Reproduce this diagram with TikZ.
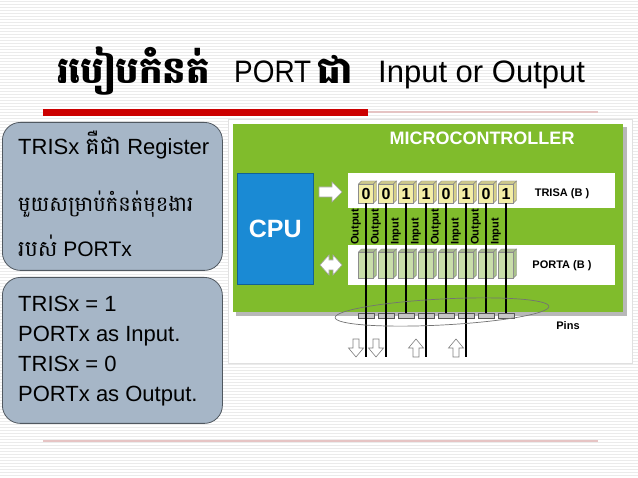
\documentclass[tikz,border=0pt]{standalone}
\usepackage{fontspec}
\usepackage{graphicx}
\setmainfont{Liberation Sans}
\newfontfamily\kh[Script=Khmer]{Battambang}
\definecolor{boxfill}{HTML}{A6B6C7}
\definecolor{boxline}{HTML}{505860}
\definecolor{mcgreen}{HTML}{80BC2C}
\definecolor{cpublue}{HTML}{1A8AD4}
\definecolor{yel}{HTML}{F3EEA6}
\definecolor{yelside}{HTML}{D6D08A}
\definecolor{grn}{HTML}{C9DDAA}
\definecolor{grnside}{HTML}{A9C28A}
\definecolor{titlered}{HTML}{CC0000}
\definecolor{thinred}{HTML}{E6C4C4}
\begin{document}
\begin{tikzpicture}[x=1pt,y=-1pt,
  stripe/.style={line width=1pt, color=black!8},
  lbox/.style={draw=boxline, fill=boxfill, rounded corners=18pt, line width=0.8pt, anchor=north west, inner sep=0},
  ltext/.style={anchor=base west, inner sep=0, font=\fontsize{21}{25}\selectfont},
  rtext/.style={anchor=base west, inner sep=0, font=\fontsize{22}{26}\selectfont},
  ttl/.style={anchor=base west, inner sep=0},
  ybox/.style={draw=black!45, fill=yel, minimum width=15pt, minimum height=19pt, inner sep=0, font=\bfseries\fontsize{16}{16}\selectfont},
  gbox/.style={draw=black!45, fill=grn, minimum width=15pt, minimum height=26pt, inner sep=0},
  pin/.style={draw=black!65, fill=black!22, minimum width=16pt, minimum height=5pt, inner sep=0},
  wire/.style={line width=1.1pt, black},
  vlab/.style={rotate=90, anchor=west, inner sep=0, font=\bfseries\fontsize{11}{11}\selectfont},
  blab/.style={inner sep=0, font=\bfseries\fontsize{11}{11}\selectfont},
  harrow/.style={fill=white, draw=black!35, line width=0.6pt},
  parrow/.style={fill=white, draw=black!50, line width=0.6pt}
]
\useasboundingbox (0,0) rectangle (638,478);
\fill[white] (0,0) rectangle (638,478);
\foreach \i in {0,...,159} \draw[stripe] (0,\i*3+1.5) -- (638,\i*3+1.5);

% title
\node[ttl, font=\kh\bfseries\fontsize{37}{40}\selectfont] (t1) at (57,84) {របៀបកំនត់};
\node[ttl, font=\fontsize{31}{36}\selectfont] (t2) at (234,83) {\scalebox{0.9}[1]{PORT}};
\node[ttl, font=\kh\bfseries\fontsize{37}{40}\selectfont] (t3) at (317,84) {ជា};
\node[ttl, font=\fontsize{31}{36}\selectfont] (t4) at (378,83) {Input or Output};
\fill[thinred] (367,111) rectangle (598,113);
\fill[titlered] (43,109) rectangle (368,116);
\fill[thinred] (43,440.5) rectangle (598,442);

% left boxes
\node[lbox, minimum width=220pt, minimum height=148pt] (b1) at (2,122) {};
\node[lbox, minimum width=220pt, minimum height=146pt] (b2) at (2,277) {};
\node[ltext, font=\fontsize{22}{25}\selectfont] (l1) at (18,155) {TRISx {\kh\fontsize{24}{25}\selectfont គឺជា} Register};
\node[ltext] (l2) at (18,212) {\kh មួយសម្រាប់កំនត់មុខងារ};
\node[ltext] (l3) at (18,257) {{\kh\fontsize{22}{25}\selectfont របស់} PORTx};
\node[rtext] (r1) at (18,312) {TRISx = 1};
\node[rtext] (r2) at (18,342) {PORTx as Input.};
\node[rtext] (r3) at (18,372) {TRISx = 0};
\node[rtext] (r4) at (18,402) {PORTx as Output.};

% picture
\fill[white] (228,119) rectangle (632,363);
\draw[black!12] (228,119) rectangle (632,363);
\fill[black!28] (236,127) rectangle (627,316);
\fill[mcgreen] (233,124) rectangle (623,312);
\node[font=\bfseries\fontsize{18}{18}\selectfont, text=white, inner sep=0] (mc) at (482,138) {MICROCONTROLLER};
\node[draw=cpublue!70!black, fill=cpublue, minimum width=76pt, minimum height=111pt, inner sep=0, anchor=north west, text=white, font=\bfseries\fontsize{25}{25}\selectfont] (cpu) at (237,173) {CPU};
\fill[white] (348,173) rectangle (615,208);
\fill[white] (348,245) rectangle (615,285);
\node[blab] (trisa) at (562,194) {TRISA (B )};
\node[blab] (porta) at (562,266) {PORTA (B )};
\node[blab] (pins) at (568,326) {Pins};

% arrows from CPU
\draw[harrow] (319,187) -- (332,187) -- (332,182) -- (342,192) -- (332,202) -- (332,197) -- (319,197) -- cycle;
\draw[harrow] (320,265) -- (329,255) -- (329,260) -- (333,260) -- (333,255) -- (342,265) -- (333,275) -- (333,270) -- (329,270) -- (329,275) -- cycle;

% bits
\foreach \d/\lab [count=\i from 0] in {0/Output,0/Output,1/Input,1/Input,0/Output,1/Input,0/Output,1/Input}{
  \pgfmathsetmacro\lx{366+20*\i}
  \filldraw[fill=yel!85!black, draw=black!45] (\lx-7.5,184) -- (\lx-4.5,181) -- (\lx+10.5,181) -- (\lx+7.5,184) -- cycle;
  \filldraw[fill=yelside, draw=black!45] (\lx+7.5,184) -- (\lx+10.5,181) -- (\lx+10.5,200) -- (\lx+7.5,203) -- cycle;
  \node[ybox] (y\i) at (\lx,193.5) {\d};
  \filldraw[fill=grn!85!black, draw=black!45] (\lx-7.5,252) -- (\lx-4.5,249) -- (\lx+10.5,249) -- (\lx+7.5,252) -- cycle;
  \filldraw[fill=grnside, draw=black!45] (\lx+7.5,252) -- (\lx+10.5,249) -- (\lx+10.5,275) -- (\lx+7.5,278) -- cycle;
  \node[gbox] (g\i) at (\lx,265) {};
  \node[pin] (p\i) at (\lx,315.5) {};
  \node[vlab] (v\i) at (\lx-10,245) {\lab};
  \draw[wire] (y\i.south) -- (p\i.north);
}
\foreach \i in {0,1,3,5}{
  \pgfmathsetmacro\lx{366+20*\i}
  \coordinate (e\i) at (\lx,357);
  \draw[wire] (p\i.north) -- (e\i);
}
\draw[black!55, line width=0.7pt, rotate around={3:(442,312)}] (442,312) ellipse [x radius=107, y radius=13];

% pin direction arrows
\foreach \c in {356,376}{
  \draw[parrow] (\c-3,339) -- (\c+3,339) -- (\c+3,348) -- (\c+7.5,348) -- (\c,357) -- (\c-7.5,348) -- (\c-3,348) -- cycle;
}
\foreach \c in {416,456}{
  \draw[parrow] (\c-3,357) -- (\c+3,357) -- (\c+3,348) -- (\c+7.5,348) -- (\c,339) -- (\c-7.5,348) -- (\c-3,348) -- cycle;
}
\end{tikzpicture}
\end{document}
